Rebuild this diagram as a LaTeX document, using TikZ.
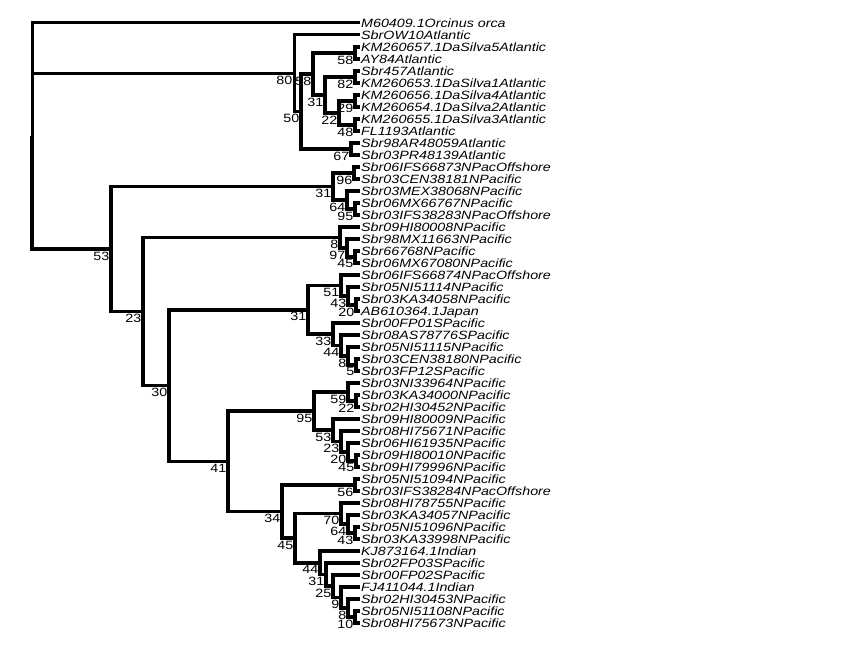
\documentclass[tikz,border=0pt]{standalone}
\usepackage{fontspec}
\newfontfamily\lsf{Liberation Sans}[FakeStretch=1.19]
\begin{document}
\begin{tikzpicture}[x=1bp,y=-1bp,
  edge/.style={line width=3.6bp},
  thinedge/.style={line width=3bp},
  leaf/.style={anchor=base west, inner sep=0pt, font=\lsf\itshape\fontsize{12bp}{12bp}\selectfont},
  blab/.style={anchor=north east, inner sep=0pt, font=\lsf\fontsize{12bp}{12bp}\selectfont}]
\fill[white] (0,0) rectangle (864,646);
\useasboundingbox (0,0) rectangle (864,646);
% leaves
\foreach \lbl [count=\i] in {M60409.1Orcinus orca, SbrOW10Atlantic, KM260657.1DaSilva5Atlantic, AY84Atlantic, Sbr457Atlantic, KM260653.1DaSilva1Atlantic, KM260656.1DaSilva4Atlantic, KM260654.1DaSilva2Atlantic, KM260655.1DaSilva3Atlantic, FL1193Atlantic, Sbr98AR48059Atlantic, Sbr03PR48139Atlantic, Sbr06IFS66873NPacOffshore, Sbr03CEN38181NPacific, Sbr03MEX38068NPacific, Sbr06MX66767NPacific, Sbr03IFS38283NPacOffshore, Sbr09HI80008NPacific, Sbr98MX11663NPacific, Sbr66768NPacific, Sbr06MX67080NPacific, Sbr06IFS66874NPacOffshore, Sbr05NI51114NPacific, Sbr03KA34058NPacific, AB610364.1Japan, Sbr00FP01SPacific, Sbr08AS78776SPacific, Sbr05NI51115NPacific, Sbr03CEN38180NPacific, Sbr03FP12SPacific, Sbr03NI33964NPacific, Sbr03KA34000NPacific, Sbr02HI30452NPacific, Sbr09HI80009NPacific, Sbr08HI75671NPacific, Sbr06HI61935NPacific, Sbr09HI80010NPacific, Sbr09HI79996NPacific, Sbr05NI51094NPacific, Sbr03IFS38284NPacOffshore, Sbr08HI78755NPacific, Sbr03KA34057NPacific, Sbr05NI51096NPacific, Sbr03KA33998NPacific, KJ873164.1Indian, Sbr02FP03SPacific, Sbr00FP02SPacific, FJ411044.1Indian, Sbr02HI30453NPacific, Sbr05NI51108NPacific, Sbr08HI75673NPacific} {
  \coordinate (t\i) at (360,{23+12*(\i-1)});
  \node[leaf] (l\i) at (361,{27.2+12*(\i-1)}) {\lbl};
}
% root
\coordinate (root) at (32,136);
% internal nodes with bootstrap labels
\foreach \nm/\x/\y/\b in {A/294/73.25/80, B/301/111.5/50, N310/313/74/58, N34/355/53/58, N510/325/95/31, N56/355/77/82, N710/339/113/22, N78/355/101/29, N910/355/125/48, N1112/351/149/67,
  P/111/249/53, T1/333/186.5/31, N1314/354/173/96, N1517/347/200/64, N1617/355/209/95,
  Q/143/311.6/23, T2/340/237.5/8, N1921/347/248/97, N2021/355/257/45,
  R/169/385.6/30, S/308/309.9/31, S1/341/285.5/51, N2325/348/296/43, N2425/356/305/20, S2/333/334.25/33, N2730/341/345.5/44, N2830/348/356/8, N2930/356/365/5,
  U/228/461.4/41, V/314/411.1/95, V1/348/392/59, N3233/356/401/22, V2/333/430.25/53, N3538/341/441.5/23, N3638/348/452/20, N3738/356/461/45,
  W/282/511.6/34, N3940/355/485/56, X/295/538.2/45, Y/341/513.5/70, N4244/348/524/64, N4344/355/533/43, Z/320/562.8/44, N4651/326/574.6/31, N4751/333/586.25/25, N4851/341/597.5/9, N4951/348/608/8, N5051/355/617/10} {
  \coordinate (\nm) at (\x,\y);
  \node[blab] (lab\nm) at ([shift={(-1.5,2.5)}]\nm) {\b};
}
% branches
\foreach \p/\c in {root/t1, root/A, A/t2, A/B}
  \draw[thinedge] (\p) |- (\c);
\foreach \p/\c in {root/P, B/N310, B/N1112, N310/N34, N310/N510, N34/t3, N34/t4, N510/N56, N510/N710, N56/t5, N56/t6, N710/N78, N710/N910, N78/t7, N78/t8, N910/t9, N910/t10, N1112/t11, N1112/t12,
  P/T1, P/Q, T1/N1314, T1/N1517, N1314/t13, N1314/t14, N1517/t15, N1517/N1617, N1617/t16, N1617/t17,
  Q/T2, Q/R, T2/t18, T2/N1921, N1921/t19, N1921/N2021, N2021/t20, N2021/t21,
  R/S, R/U, S/S1, S/S2, S1/t22, S1/N2325, N2325/t23, N2325/N2425, N2425/t24, N2425/t25, S2/t26, S2/N2730, N2730/t27, N2730/N2830, N2830/t28, N2830/N2930, N2930/t29, N2930/t30,
  U/V, U/W, V/V1, V/V2, V1/t31, V1/N3233, N3233/t32, N3233/t33, V2/t34, V2/N3538, N3538/t35, N3538/N3638, N3638/t36, N3638/N3738, N3738/t37, N3738/t38,
  W/N3940, W/X, N3940/t39, N3940/t40, X/Y, X/Z, Y/t41, Y/N4244, N4244/t42, N4244/N4344, N4344/t43, N4344/t44, Z/t45, Z/N4651, N4651/t46, N4651/N4751, N4751/t47, N4751/N4851, N4851/t48, N4851/N4951, N4951/t49, N4951/N5051, N5051/t50, N5051/t51}
  \draw[edge] (\p) |- (\c);
\end{tikzpicture}
\end{document}
